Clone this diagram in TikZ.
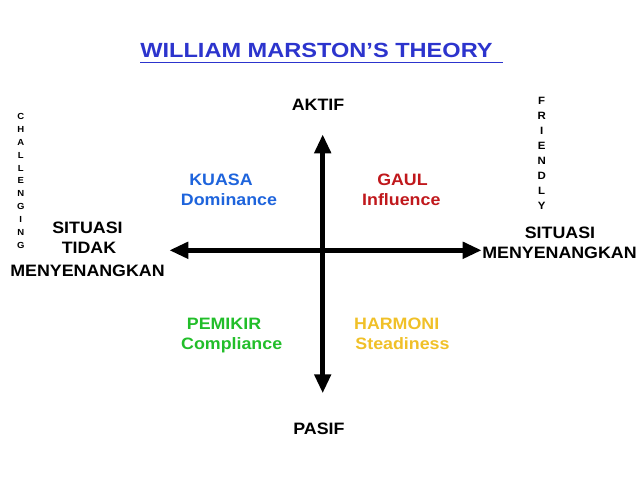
\documentclass[tikz,border=0pt]{standalone}
\usepackage{fontspec}
\setmainfont{Liberation Sans}[FakeStretch=1.08]
\newfontfamily\titlefont{Liberation Sans}[FakeStretch=1.15]
\usetikzlibrary{arrows.meta}
\definecolor{titleblue}{RGB}{44,52,205}
\definecolor{kuasablue}{RGB}{30,100,220}
\definecolor{gaulred}{RGB}{192,24,28}
\definecolor{pemikirgreen}{RGB}{34,190,42}
\definecolor{harmoniyellow}{RGB}{240,192,40}
\begin{document}
\begin{tikzpicture}[x=1pt,y=-1pt,
  lbl/.style={font=\fontsize{16.5}{18}\selectfont\bfseries, inner sep=0pt, anchor=base},
  vlet/.style={inner sep=0pt, anchor=base},
  axis/.style={line width=5pt, arrows={Triangle[length=19pt,width=16pt]-Triangle[length=19pt,width=16pt]}}]
\useasboundingbox (0,0) rectangle (638,478);
% title
\node[inner sep=0pt, anchor=base, text=titleblue, font=\titlefont\fontsize{20.5}{22}\selectfont\bfseries] (title) at (316.5,57.5) {WILLIAM MARSTON’S THEORY};
\draw[titleblue, line width=1.3pt] ([yshift=-5pt]title.base west) -- ([xshift=10pt,yshift=-5pt]title.base east);
% axis labels
\node[lbl] (aktif) at (318,111) {AKTIF};
\node[lbl] (pasif) at (319,435) {PASIF};
% axes
\coordinate (top) at (322.7,134.3);
\coordinate (bot) at (322.7,393.3);
\coordinate (lft) at (169.3,250.3);
\coordinate (rgt) at (481.7,250.3);
\draw[axis] (bot) -- (top);
\draw[axis] (lft) -- (rgt);
% quadrants
\node[lbl, text=kuasablue] (kuasa) at (221,186) {KUASA};
\node[lbl, text=kuasablue] (dom) at (229,205.7) {Dominance};
\node[lbl, text=gaulred] (gaul) at (402.5,186) {GAUL};
\node[lbl, text=gaulred] (inf) at (401.3,205.7) {Influence};
\node[lbl, text=pemikirgreen] (pemikir) at (224,329.3) {PEMIKIR};
\node[lbl, text=pemikirgreen] (comp) at (231.7,349.5) {Compliance};
\node[lbl, text=harmoniyellow] (harmoni) at (396.7,329.3) {HARMONI};
\node[lbl, text=harmoniyellow] (stead) at (402.5,349.5) {Steadiness};
% sides
\node[lbl] (sl1) at (87.5,233.5) {SITUASI};
\node[lbl] (sl2) at (89,254) {TIDAK};
\node[lbl] (sl3) at (87.5,276.5) {MENYENANGKAN};
\node[lbl] (sr1) at (560,238.3) {SITUASI};
\node[lbl] (sr2) at (559.5,258.3) {MENYENANGKAN};
% vertical words
\foreach \l [count=\i from 0] in {C,H,A,L,L,E,N,G,I,N,G}
  \node[vlet, font=\fontsize{8.8}{9}\selectfont\bfseries] (ch\i) at (20.7,119.5+12.9*\i) {\l};
\foreach \l [count=\i from 0] in {F,R,I,E,N,D,L,Y}
  \node[vlet, font=\fontsize{10.6}{11}\selectfont\bfseries] (fr\i) at (541.7,104.2+15.04*\i) {\l};
\end{tikzpicture}
\end{document}
